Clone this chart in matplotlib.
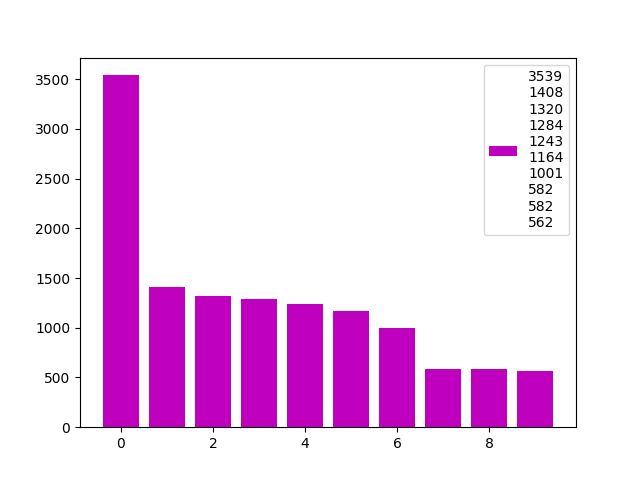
import matplotlib
matplotlib.use('Agg')
import matplotlib.pyplot as plt

values = [3539, 1408, 1320, 1284, 1243, 1164, 1001, 582, 582, 562]
x = list(range(len(values)))

fig, ax = plt.subplots(figsize=(6.4, 4.8), dpi=100)
ax.bar(x, values, color='m', label='\n'.join(str(v) for v in values))
ax.legend(loc='upper right')
fig.savefig('out.png')
